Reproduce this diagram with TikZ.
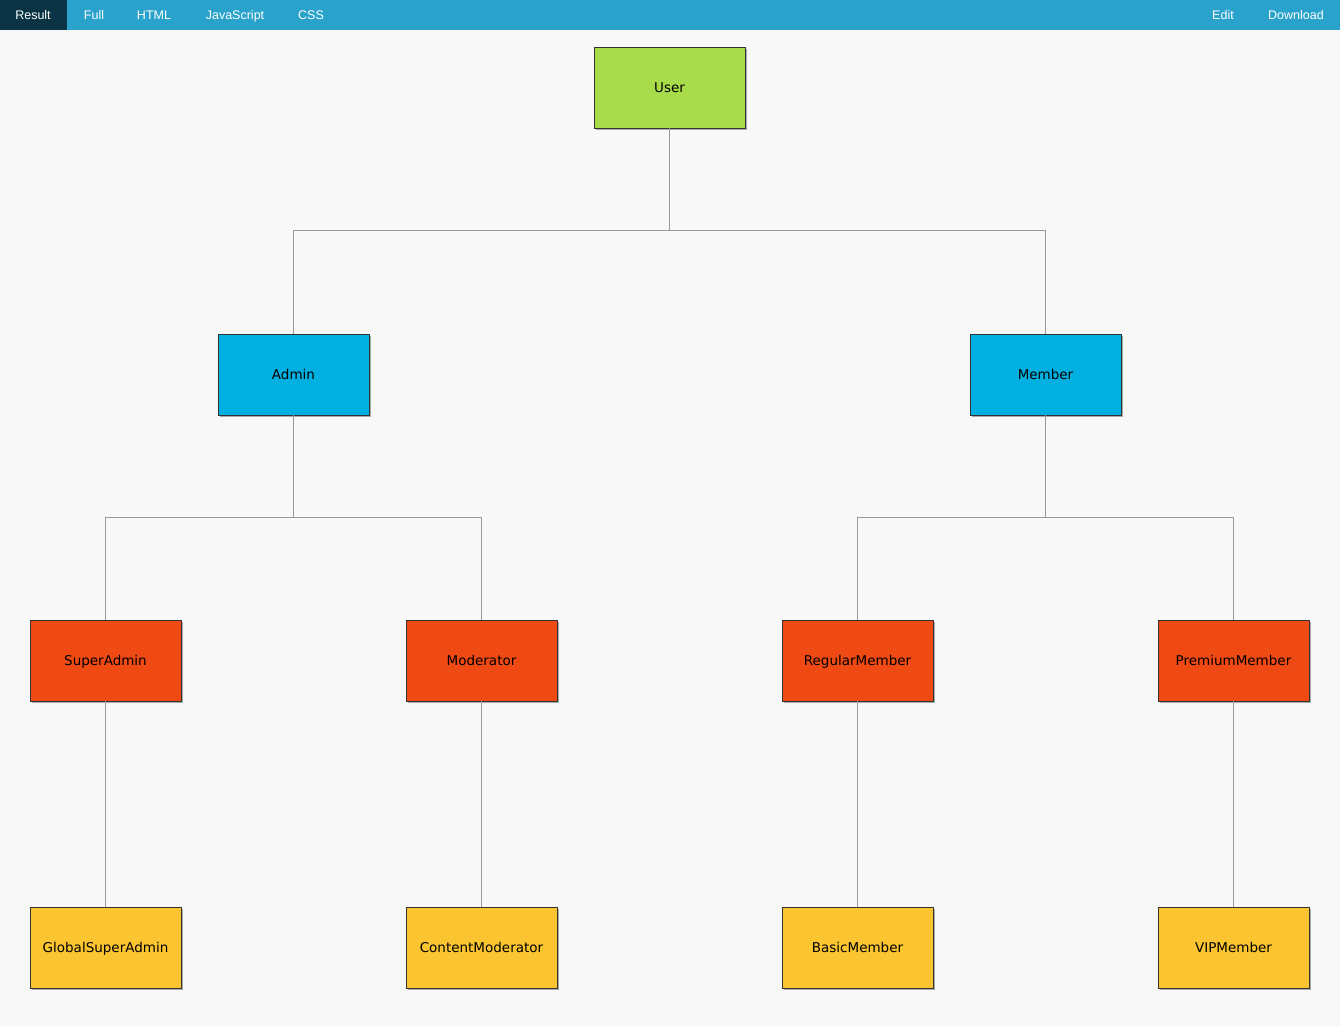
\documentclass[tikz,border=0pt]{standalone}
\usepackage{fontspec}
\setmainfont{DejaVu Sans}
\newfontfamily\barfont{Liberation Sans}
\usetikzlibrary{shadows}
\definecolor{bgc}{HTML}{F8F8F8}
\definecolor{barc}{HTML}{29A3CC}
\definecolor{tabc}{HTML}{0A3444}
\definecolor{greenc}{HTML}{A8DC4A}
\definecolor{bluec}{HTML}{00B0E0}
\definecolor{redc}{HTML}{F04A14}
\definecolor{yellowc}{HTML}{FBC531}
\definecolor{linec}{HTML}{999999}
\definecolor{edgec}{HTML}{333333}
\begin{document}
\begin{tikzpicture}[x=1pt,y=-1pt,
  box/.style={draw=edgec,line width=0.9pt,minimum width=151pt,minimum height=81pt,inner sep=0pt,
    font=\fontsize{13.5}{15}\selectfont,text=black,text height=9.5pt,text depth=0pt,
    drop shadow={shadow xshift=1.6pt,shadow yshift=-1.6pt,opacity=0.45,fill=black!70}},
  lvla/.style={box,fill=greenc},
  lvlb/.style={box,fill=bluec},
  lvlc/.style={box,fill=redc},
  lvld/.style={box,fill=yellowc},
  conn/.style={draw=linec,line width=0.8pt},
  tab/.style={font=\barfont\fontsize{12.5}{14}\selectfont,text=white,inner sep=0pt,text height=9pt,text depth=0pt}]
\useasboundingbox (0,0) rectangle (1340,1026);
\fill[bgc] (0,0) rectangle (1340,1026);
\fill[barc] (0,0) rectangle (1340,30);
\fill[tabc] (0,0) rectangle (67,30);
\node[tab] (tresult) at (33,14.5) {Result};
\node[tab] (tfull) at (94,14.5) {Full};
\node[tab] (thtml) at (154,14.5) {HTML};
\node[tab] (tjs) at (235,14.5) {JavaScript};
\node[tab] (tcss) at (311,14.5) {CSS};
\node[tab] (tedit) at (1223,14.5) {Edit};
\node[tab] (tdl) at (1296,14.5) {Download};

% connector elbows
\coordinate (j1) at (669.5,230);
\coordinate (j1l) at (293.5,230);
\coordinate (j1r) at (1045.5,230);
\coordinate (j2) at (293.5,517);
\coordinate (j2l) at (105.5,517);
\coordinate (j2r) at (481.5,517);
\coordinate (j3) at (1045.5,517);
\coordinate (j3l) at (857.5,517);
\coordinate (j3r) at (1233.5,517);

\node[lvla] (user) at (669.5,87.5) {User};
\node[lvlb] (admin) at (293.5,374.5) {Admin};
\node[lvlb] (member) at (1045.5,374.5) {Member};
\node[lvlc] (superadmin) at (105.5,660.5) {SuperAdmin};
\node[lvlc] (moderator) at (481.5,660.5) {Moderator};
\node[lvlc] (regular) at (857.5,660.5) {RegularMember};
\node[lvlc] (premium) at (1233.5,660.5) {PremiumMember};
\node[lvld] (global) at (105.5,947.5) {GlobalSuperAdmin};
\node[lvld] (content) at (481.5,947.5) {ContentModerator};
\node[lvld] (basic) at (857.5,947.5) {BasicMember};
\node[lvld] (vip) at (1233.5,947.5) {VIPMember};

\draw[conn] (user.south) -- (j1);
\draw[conn] (j1l) -- (j1r);
\draw[conn] (j1l) -- (admin.north);
\draw[conn] (j1r) -- (member.north);
\draw[conn] (admin.south) -- (j2);
\draw[conn] (j2l) -- (j2r);
\draw[conn] (j2l) -- (superadmin.north);
\draw[conn] (j2r) -- (moderator.north);
\draw[conn] (member.south) -- (j3);
\draw[conn] (j3l) -- (j3r);
\draw[conn] (j3l) -- (regular.north);
\draw[conn] (j3r) -- (premium.north);
\draw[conn] (superadmin.south) -- (global.north);
\draw[conn] (moderator.south) -- (content.north);
\draw[conn] (regular.south) -- (basic.north);
\draw[conn] (premium.south) -- (vip.north);
\end{tikzpicture}
\end{document}
